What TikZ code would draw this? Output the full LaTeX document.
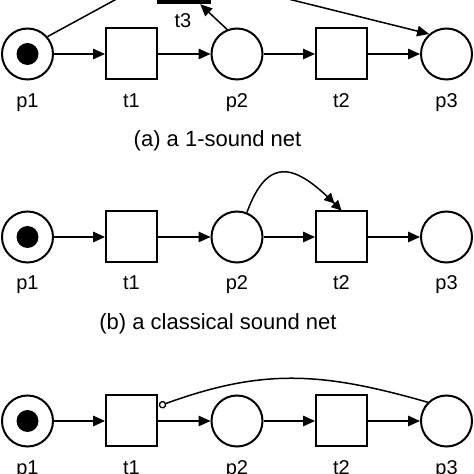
\documentclass[tikz,border=0pt]{standalone}
\usepackage{fontspec}
\setmainfont{Liberation Sans}
\usetikzlibrary{arrows.meta,calc}
\begin{document}
\begin{tikzpicture}[x=1pt,y=1pt,
  placebox/.style={circle,draw,line width=2pt,minimum size=51pt,inner sep=0pt},
  transbox/.style={rectangle,draw,line width=2pt,minimum size=51pt,inner sep=0pt},
  barbox/.style={rectangle,fill=black,minimum width=54pt,minimum height=12pt,inner sep=0pt},
  tokenbox/.style={circle,fill=black,minimum size=22pt,inner sep=0pt},
  labtxt/.style={anchor=base,font=\fontsize{20}{22}\selectfont,inner sep=0pt},
  captxt/.style={font=\fontsize{22}{26}\selectfont,inner sep=0pt},
  arcline/.style={line width=1.5pt,-{Triangle[length=12pt,width=10.5pt]}},
  darcline/.style={line width=1.5pt,-{Triangle[length=10pt,width=10pt]Triangle[length=10pt,width=10pt]}},
  inhibline/.style={line width=1.5pt,-{Circle[open,length=7.5pt,width=7.5pt,line width=1.3pt]}},
  plainline/.style={line width=1.5pt}]
\useasboundingbox (0,0) rectangle (474,474);
% ---------- (a) ----------
\node[placebox] (ap1) at (27.5,420) {};
\node[tokenbox] (atok) at (27.5,420) {};
\node[transbox] (at1) at (131.5,420) {};
\node[placebox] (ap2) at (237,420) {};
\node[transbox] (at2) at (341.5,420) {};
\node[placebox] (ap3) at (446.5,420) {};
\node[barbox] (at3) at (184,476) {};
\coordinate (aa1) at (135,485);
\coordinate (aa2) at (250,484.5);
\node[labtxt] (lap1) at (27.5,366) {p1};
\node[labtxt] (lat1) at (131.5,366) {t1};
\node[labtxt] (lap2) at (237,366) {p2};
\node[labtxt] (lat2) at (341.5,366) {t2};
\node[labtxt] (lap3) at (446.5,366) {p3};
\node[labtxt] (lat3) at (183,446) {t3};
\draw[arcline] (ap1) -- (at1);
\draw[arcline] (at1) -- (ap2);
\draw[arcline] (ap2) -- (at2);
\draw[arcline] (at2) -- (ap3);
\draw[plainline] (ap1.41) -- (aa1);
\draw[arcline] (ap2.112) -- ($(at3.south east)+(-11,0)$);
\draw[arcline] (aa2) -- (ap3.131);
\node[captxt] (capa) at (217.5,333) {(a) a 1-sound net};
% ---------- (b) ----------
\node[placebox] (bp1) at (27.5,237) {};
\node[tokenbox] (btok) at (27.5,237) {};
\node[transbox] (bt1) at (131.5,237) {};
\node[placebox] (bp2) at (237,237) {};
\node[transbox] (bt2) at (341.5,237) {};
\node[placebox] (bp3) at (446.5,237) {};
\node[labtxt] (lbp1) at (27.5,184) {p1};
\node[labtxt] (lbt1) at (131.5,184) {t1};
\node[labtxt] (lbp2) at (237,184) {p2};
\node[labtxt] (lbt2) at (341.5,184) {t2};
\node[labtxt] (lbp3) at (446.5,184) {p3};
\draw[arcline] (bp1) -- (bt1);
\draw[arcline] (bt1) -- (bp2);
\draw[arcline] (bp2) -- (bt2);
\draw[arcline] (bt2) -- (bp3);
\draw[darcline] (bp2.68) to[out=70,in=135,looseness=1.7] (bt2.north);
\node[captxt] (capb) at (218,150) {(b) a classical sound net};
% ---------- (c) ----------
\node[placebox] (cp1) at (27.5,53) {};
\node[tokenbox] (ctok) at (27.5,53) {};
\node[transbox] (ct1) at (131.5,53) {};
\node[placebox] (cp2) at (237,53) {};
\node[transbox] (ct2) at (341.5,53) {};
\node[placebox] (cp3) at (446.5,53) {};
\node[labtxt] (lcp1) at (27.5,-1) {p1};
\node[labtxt] (lct1) at (131.5,-1) {t1};
\node[labtxt] (lcp2) at (237,-1) {p2};
\node[labtxt] (lct2) at (341.5,-1) {t2};
\node[labtxt] (lcp3) at (446.5,-1) {p3};
\draw[arcline] (cp1) -- (ct1);
\draw[arcline] (ct1) -- (cp2);
\draw[arcline] (cp2) -- (ct2);
\draw[arcline] (ct2) -- (cp3);
\draw[inhibline] (cp3.135) to[out=164,in=20,looseness=1.05] ($(ct1.east)+(1,15)$);
\end{tikzpicture}
\end{document}
